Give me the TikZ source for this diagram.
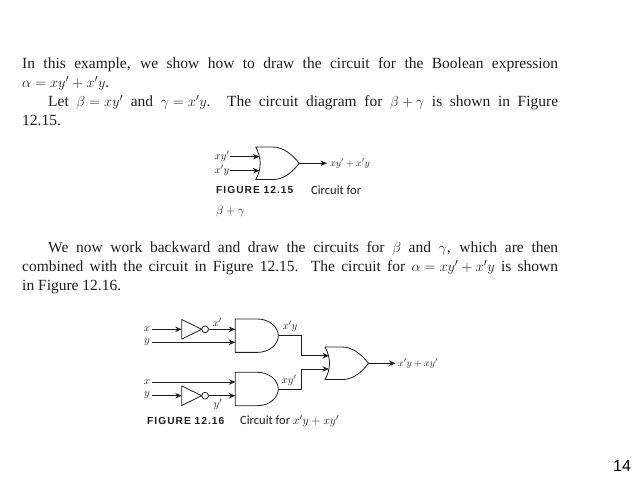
\documentclass[tikz,border=0pt]{standalone}
\usepackage{amsmath}
\usepackage{fontspec}
\setmainfont{Liberation Serif}
\newfontfamily\capfont[LetterSpace=10]{Liberation Sans}
\newfontfamily\capnote{Carlito}
\newfontfamily\pagefont{Liberation Sans}
\usetikzlibrary{arrows.meta,positioning}
\definecolor{inkgray}{RGB}{30,30,30}
\tikzstyle{wire} = [line width=0.8pt,color=inkgray]
\tikzstyle{arrow} = [wire,-{Stealth[length=6.5pt,width=5.5pt]}]
\tikzstyle{gate} = [line width=0.8pt,color=inkgray,line join=round]
\tikzstyle{body} = [anchor=north west, inner sep=0pt, text width=536pt, align=justify, font=\fontsize{15.5}{19}\selectfont, color=inkgray]
\tikzstyle{lab} = [inner sep=0pt, font=\fontsize{11}{13}\selectfont, color=inkgray]
\tikzstyle{outlab} = [lab, anchor=west, font=\fontsize{10.2}{12}\selectfont]
\tikzstyle{figlab} = [anchor=west, inner sep=0pt, font=\fontsize{10.2}{12}\selectfont\bfseries\capfont, color=inkgray]
\tikzstyle{capt} = [anchor=west, inner sep=0pt, font=\fontsize{12.5}{14}\selectfont\capnote, color=inkgray]
\tikzset{
  andgate/.pic={
    \draw[gate] (0,0) -- (22,0) .. controls (34,0) and (43,8) .. (43,16.7) .. controls (43,25.5) and (34,33.4) .. (22,33.4) -- (0,33.4) -- cycle;
    \coordinate (-tip) at (43,16.7);
  },
  orgate/.pic={
    \draw[gate] (0,0) -- (17,0) .. controls (28,0) and (37,8) .. (43.5,16.3) .. controls (37,25) and (28,32.6) .. (17,32.6) -- (0,32.6) .. controls (6,22) and (6,11) .. (0,0) -- cycle;
    \coordinate (-tip) at (43.5,16.3);
  },
  invgate/.pic={
    \draw[gate] (0,0) -- (20,9.8) -- (0,19.6) -- cycle;
    \draw[gate] (23.4,9.8) circle (3.4);
    \coordinate (-in) at (0,9.8);
    \coordinate (-out) at (26.8,9.8);
  }
}

\begin{document}
\begin{tikzpicture}[x=1pt,y=-1pt]
\useasboundingbox (0,0) rectangle (638,478);

% Text above the first figure
\node[body] (para1) at (22,57.8) {\thickmuskip=5mu\medmuskip=4mu In this example, we show how to draw the circuit for the Boolean expression\linebreak
$\alpha = xy' + x'y$.\hfill\null\\
\hspace*{26pt}Let $\beta = xy'$ and $\gamma = x'y$. The circuit diagram for $\beta + \gamma$ is shown in Figure\linebreak
12.15.\hfill\null};

% Figure 12.15
\pic (orA) at (255.7,147) {orgate};
\node[lab] (inA) at (222,156.7) {$xy'$};
\node[lab] (inB) at (222,170.7) {$x'y$};
\coordinate (orAa) at (259.5,156.7);
\coordinate (orAb) at (259.5,170.7);
\node[outlab] (outA) at (330,163.3) {$xy' + x'y$};
\draw[arrow] (inA) ++(8,0) -- (orAa);
\draw[arrow] (inB) ++(8,0) -- (orAb);
\draw[arrow, shorten >=3pt] (orA-tip) -- (outA);
\node[figlab] (figA) at (216,190) {FIGURE 12.15};
\node[capt] (capA) at (311,190) {Circuit for};
\node[lab, anchor=west, font=\fontsize{13}{15}\selectfont] (capB) at (216,212) {$\beta + \gamma$};

% Text between the figures
\node[body] (para2) at (22,241.8) {\thickmuskip=5mu\medmuskip=4mu\hspace*{26pt}We now work backward and draw the circuits for $\beta$ and $\gamma$, which are then\linebreak
combined with the circuit in Figure 12.15. The circuit for $\alpha = xy' + x'y$ is shown\linebreak
in Figure 12.16.\hfill\null};

% Figure 12.16, inputs
\node[lab] (xa) at (147,329.3) {$x$};
\node[lab] (ya) at (147,342.3) {$y$};
\node[lab] (xb) at (147,382) {$x$};
\node[lab] (yb) at (147,395.7) {$y$};

% Gates
\pic (invA) at (181.7,319.5) {invgate};
\pic (invB) at (181.7,385.9) {invgate};
\pic (andA) at (235.3,319) {andgate};
\pic (andB) at (235.3,372.3) {andgate};
\pic (orB) at (325,347) {orgate};
\coordinate (andAa) at (235.3,329.3);
\coordinate (andAb) at (235.3,342.3);
\coordinate (andBa) at (235.3,382);
\coordinate (andBb) at (235.3,395.7);
\coordinate (orBa) at (329,355.7);
\coordinate (orBb) at (329,369);
\coordinate (jogA) at (301.7,346);
\coordinate (jogB) at (301.7,379);

% Wires
\draw[arrow] (xa) ++(5,0) -- (invA-in);
\draw[arrow] (invA-out) -- (andAa);
\draw[arrow] (ya) ++(5,0) -- (andAb);
\draw[arrow] (xb) ++(5,0) -- (andBa);
\draw[arrow] (yb) ++(5,0) -- (invB-in);
\draw[arrow] (invB-out) -- (andBb);
\draw[arrow] (andA-tip) -| (jogA) |- (orBa);
\draw[arrow] (andB-tip) -| (jogB) |- (orBb);

% Labels
\node[outlab] (outB) at (398,363.3) {$x'y + xy'$};
\draw[arrow, shorten >=2.5pt] (orB-tip) -- (outB);
\node[lab] (xbar) at (217.5,322) {$x'$};
\node[lab] (ybar) at (218,404) {$y'$};
\node[lab] (andAlab) at (290,326) {$x'y$};
\node[lab] (andBlab) at (289,380) {$xy'$};
\node[figlab] (figB) at (147,421) {FIGURE 12.16};
\node[capt] (capC) at (240,421) {Circuit for $x'y + xy'$};

\node[font=\fontsize{16}{18}\selectfont\pagefont, inner sep=0pt] (pagenum) at (622,465.5) {14};
\end{tikzpicture}
\end{document}
